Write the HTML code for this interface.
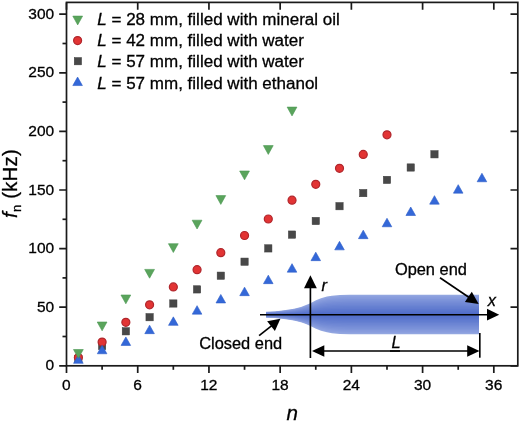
<!DOCTYPE html>
<html><head><meta charset="utf-8"><title>fn vs n</title>
<style>
html,body{margin:0;padding:0;background:#fff;}
body{width:520px;height:422px;overflow:hidden;}
svg{display:block;font-family:"Liberation Sans",Arial,sans-serif;fill:#000;}
text{stroke:#000;stroke-width:0.3px;}
.tk{font-size:15.5px;}
.lg{font-size:17.03px;}
.an{font-size:16.4px;}
.ti{font-size:20.6px;}
i,.it{font-style:italic;}
</style></head><body>
<svg width="520" height="422" viewBox="0 0 520 422">
<rect width="520" height="422" fill="#fff"/>
<defs>
<linearGradient id="tg" x1="0" y1="0" x2="0" y2="1">
<stop offset="0" stop-color="#93a7e0"/><stop offset="0.5" stop-color="#4866c4"/><stop offset="1" stop-color="#93a7e0"/>
</linearGradient></defs>
<rect x="66.5" y="2.4" width="451.29999999999995" height="363.40000000000003" fill="none" stroke="#1a1a1a" stroke-width="1.7"/>
<path d="M59.20 365.80H66.5 M510.50 365.80H517.8" stroke="#1a1a1a" stroke-width="1.7" fill="none"/>
<path d="M62.50 336.50H66.5" stroke="#1a1a1a" stroke-width="1.7" fill="none"/>
<path d="M59.20 307.20H66.5 M510.50 307.20H517.8" stroke="#1a1a1a" stroke-width="1.7" fill="none"/>
<path d="M62.50 277.90H66.5" stroke="#1a1a1a" stroke-width="1.7" fill="none"/>
<path d="M59.20 248.60H66.5 M510.50 248.60H517.8" stroke="#1a1a1a" stroke-width="1.7" fill="none"/>
<path d="M62.50 219.30H66.5" stroke="#1a1a1a" stroke-width="1.7" fill="none"/>
<path d="M59.20 190.00H66.5 M510.50 190.00H517.8" stroke="#1a1a1a" stroke-width="1.7" fill="none"/>
<path d="M62.50 160.70H66.5" stroke="#1a1a1a" stroke-width="1.7" fill="none"/>
<path d="M59.20 131.40H66.5 M510.50 131.40H517.8" stroke="#1a1a1a" stroke-width="1.7" fill="none"/>
<path d="M62.50 102.10H66.5" stroke="#1a1a1a" stroke-width="1.7" fill="none"/>
<path d="M59.20 72.80H66.5 M510.50 72.80H517.8" stroke="#1a1a1a" stroke-width="1.7" fill="none"/>
<path d="M62.50 43.50H66.5" stroke="#1a1a1a" stroke-width="1.7" fill="none"/>
<path d="M59.20 14.20H66.5 M510.50 14.20H517.8" stroke="#1a1a1a" stroke-width="1.7" fill="none"/>
<path d="M66.50 365.8V373.10 M66.50 2.4V9.70" stroke="#1a1a1a" stroke-width="1.7" fill="none"/>
<path d="M102.11 365.8V369.80" stroke="#1a1a1a" stroke-width="1.7" fill="none"/>
<path d="M137.72 365.8V373.10 M137.72 2.4V9.70" stroke="#1a1a1a" stroke-width="1.7" fill="none"/>
<path d="M173.33 365.8V369.80" stroke="#1a1a1a" stroke-width="1.7" fill="none"/>
<path d="M208.94 365.8V373.10 M208.94 2.4V9.70" stroke="#1a1a1a" stroke-width="1.7" fill="none"/>
<path d="M244.55 365.8V369.80" stroke="#1a1a1a" stroke-width="1.7" fill="none"/>
<path d="M280.16 365.8V373.10 M280.16 2.4V9.70" stroke="#1a1a1a" stroke-width="1.7" fill="none"/>
<path d="M315.77 365.8V369.80" stroke="#1a1a1a" stroke-width="1.7" fill="none"/>
<path d="M351.38 365.8V373.10 M351.38 2.4V9.70" stroke="#1a1a1a" stroke-width="1.7" fill="none"/>
<path d="M386.99 365.8V369.80" stroke="#1a1a1a" stroke-width="1.7" fill="none"/>
<path d="M422.60 365.8V373.10 M422.60 2.4V9.70" stroke="#1a1a1a" stroke-width="1.7" fill="none"/>
<path d="M458.21 365.8V369.80" stroke="#1a1a1a" stroke-width="1.7" fill="none"/>
<path d="M493.82 365.8V373.10 M493.82 2.4V9.70" stroke="#1a1a1a" stroke-width="1.7" fill="none"/>
<text class="tk" x="54.2" y="370.40" text-anchor="end">0</text>
<text class="tk" x="54.2" y="311.80" text-anchor="end">50</text>
<text class="tk" x="54.2" y="253.20" text-anchor="end">100</text>
<text class="tk" x="54.2" y="194.60" text-anchor="end">150</text>
<text class="tk" x="54.2" y="136.00" text-anchor="end">200</text>
<text class="tk" x="54.2" y="77.40" text-anchor="end">250</text>
<text class="tk" x="54.2" y="18.80" text-anchor="end">300</text>
<text class="tk" x="66.40" y="389.9" text-anchor="middle">0</text>
<text class="tk" x="137.62" y="389.9" text-anchor="middle">6</text>
<text class="tk" x="208.84" y="389.9" text-anchor="middle">12</text>
<text class="tk" x="280.06" y="389.9" text-anchor="middle">18</text>
<text class="tk" x="351.28" y="389.9" text-anchor="middle">24</text>
<text class="tk" x="422.50" y="389.9" text-anchor="middle">30</text>
<text class="tk" x="493.72" y="389.9" text-anchor="middle">36</text>
<text class="ti" transform="translate(16.6,217.9) rotate(-90)" letter-spacing="0.12"><tspan class="it">f</tspan><tspan font-size="13px" dy="4.8">n</tspan><tspan dy="-4.8"> (kHz)</tspan></text>
<text class="ti it" x="292.3" y="420" text-anchor="middle">n</text>
<rect x="74.72" y="355.35" width="7.3" height="7.3" fill="#484848" stroke="#3c3c3c" stroke-width="0.5"/>
<rect x="98.46" y="342.35" width="7.3" height="7.3" fill="#484848" stroke="#3c3c3c" stroke-width="0.5"/>
<rect x="122.20" y="327.65" width="7.3" height="7.3" fill="#484848" stroke="#3c3c3c" stroke-width="0.5"/>
<rect x="145.94" y="313.55" width="7.3" height="7.3" fill="#484848" stroke="#3c3c3c" stroke-width="0.5"/>
<rect x="169.68" y="299.85" width="7.3" height="7.3" fill="#484848" stroke="#3c3c3c" stroke-width="0.5"/>
<rect x="193.42" y="285.75" width="7.3" height="7.3" fill="#484848" stroke="#3c3c3c" stroke-width="0.5"/>
<rect x="217.16" y="272.05" width="7.3" height="7.3" fill="#484848" stroke="#3c3c3c" stroke-width="0.5"/>
<rect x="240.90" y="258.05" width="7.3" height="7.3" fill="#484848" stroke="#3c3c3c" stroke-width="0.5"/>
<rect x="264.64" y="244.75" width="7.3" height="7.3" fill="#484848" stroke="#3c3c3c" stroke-width="0.5"/>
<rect x="288.38" y="230.95" width="7.3" height="7.3" fill="#484848" stroke="#3c3c3c" stroke-width="0.5"/>
<rect x="312.12" y="217.35" width="7.3" height="7.3" fill="#484848" stroke="#3c3c3c" stroke-width="0.5"/>
<rect x="335.86" y="202.55" width="7.3" height="7.3" fill="#484848" stroke="#3c3c3c" stroke-width="0.5"/>
<rect x="359.60" y="189.45" width="7.3" height="7.3" fill="#484848" stroke="#3c3c3c" stroke-width="0.5"/>
<rect x="383.34" y="176.25" width="7.3" height="7.3" fill="#484848" stroke="#3c3c3c" stroke-width="0.5"/>
<rect x="407.08" y="163.85" width="7.3" height="7.3" fill="#484848" stroke="#3c3c3c" stroke-width="0.5"/>
<rect x="430.82" y="150.65" width="7.3" height="7.3" fill="#484848" stroke="#3c3c3c" stroke-width="0.5"/>
<circle cx="78.37" cy="357.50" r="4.0" fill="#e23434" stroke="#b0262c" stroke-width="1.2"/>
<circle cx="102.11" cy="342.10" r="4.0" fill="#e23434" stroke="#b0262c" stroke-width="1.2"/>
<circle cx="125.85" cy="322.30" r="4.0" fill="#e23434" stroke="#b0262c" stroke-width="1.2"/>
<circle cx="149.59" cy="304.80" r="4.0" fill="#e23434" stroke="#b0262c" stroke-width="1.2"/>
<circle cx="173.33" cy="286.90" r="4.0" fill="#e23434" stroke="#b0262c" stroke-width="1.2"/>
<circle cx="197.07" cy="269.70" r="4.0" fill="#e23434" stroke="#b0262c" stroke-width="1.2"/>
<circle cx="220.81" cy="252.70" r="4.0" fill="#e23434" stroke="#b0262c" stroke-width="1.2"/>
<circle cx="244.55" cy="235.50" r="4.0" fill="#e23434" stroke="#b0262c" stroke-width="1.2"/>
<circle cx="268.29" cy="219.00" r="4.0" fill="#e23434" stroke="#b0262c" stroke-width="1.2"/>
<circle cx="292.03" cy="200.20" r="4.0" fill="#e23434" stroke="#b0262c" stroke-width="1.2"/>
<circle cx="315.77" cy="184.30" r="4.0" fill="#e23434" stroke="#b0262c" stroke-width="1.2"/>
<circle cx="339.51" cy="168.30" r="4.0" fill="#e23434" stroke="#b0262c" stroke-width="1.2"/>
<circle cx="363.25" cy="154.40" r="4.0" fill="#e23434" stroke="#b0262c" stroke-width="1.2"/>
<circle cx="386.99" cy="134.80" r="4.0" fill="#e23434" stroke="#b0262c" stroke-width="1.2"/>
<polygon points="73.57,363.35 83.17,363.35 78.37,354.85" fill="#3468d8" stroke="#2c5cc8" stroke-width="0.6"/>
<polygon points="97.31,353.75 106.91,353.75 102.11,345.25" fill="#3468d8" stroke="#2c5cc8" stroke-width="0.6"/>
<polygon points="121.05,345.45 130.65,345.45 125.85,336.95" fill="#3468d8" stroke="#2c5cc8" stroke-width="0.6"/>
<polygon points="144.79,333.65 154.39,333.65 149.59,325.15" fill="#3468d8" stroke="#2c5cc8" stroke-width="0.6"/>
<polygon points="168.53,325.35 178.13,325.35 173.33,316.85" fill="#3468d8" stroke="#2c5cc8" stroke-width="0.6"/>
<polygon points="192.27,314.15 201.87,314.15 197.07,305.65" fill="#3468d8" stroke="#2c5cc8" stroke-width="0.6"/>
<polygon points="216.01,302.95 225.61,302.95 220.81,294.45" fill="#3468d8" stroke="#2c5cc8" stroke-width="0.6"/>
<polygon points="239.75,295.65 249.35,295.65 244.55,287.15" fill="#3468d8" stroke="#2c5cc8" stroke-width="0.6"/>
<polygon points="263.49,283.65 273.09,283.65 268.29,275.15" fill="#3468d8" stroke="#2c5cc8" stroke-width="0.6"/>
<polygon points="287.23,272.15 296.83,272.15 292.03,263.65" fill="#3468d8" stroke="#2c5cc8" stroke-width="0.6"/>
<polygon points="310.97,260.65 320.57,260.65 315.77,252.15" fill="#3468d8" stroke="#2c5cc8" stroke-width="0.6"/>
<polygon points="334.71,249.85 344.31,249.85 339.51,241.35" fill="#3468d8" stroke="#2c5cc8" stroke-width="0.6"/>
<polygon points="358.45,238.65 368.05,238.65 363.25,230.15" fill="#3468d8" stroke="#2c5cc8" stroke-width="0.6"/>
<polygon points="382.19,226.75 391.79,226.75 386.99,218.25" fill="#3468d8" stroke="#2c5cc8" stroke-width="0.6"/>
<polygon points="405.93,215.50 415.53,215.50 410.73,207.00" fill="#3468d8" stroke="#2c5cc8" stroke-width="0.6"/>
<polygon points="429.67,204.15 439.27,204.15 434.47,195.65" fill="#3468d8" stroke="#2c5cc8" stroke-width="0.6"/>
<polygon points="453.41,193.15 463.01,193.15 458.21,184.65" fill="#3468d8" stroke="#2c5cc8" stroke-width="0.6"/>
<polygon points="477.15,181.75 486.75,181.75 481.95,173.25" fill="#3468d8" stroke="#2c5cc8" stroke-width="0.6"/>
<polygon points="73.47,349.50 83.27,349.50 78.37,358.30" fill="#5aa45c" stroke="#4a9752" stroke-width="0.6"/>
<polygon points="97.21,322.00 107.01,322.00 102.11,330.80" fill="#5aa45c" stroke="#4a9752" stroke-width="0.6"/>
<polygon points="120.95,295.00 130.75,295.00 125.85,303.80" fill="#5aa45c" stroke="#4a9752" stroke-width="0.6"/>
<polygon points="144.69,269.40 154.49,269.40 149.59,278.20" fill="#5aa45c" stroke="#4a9752" stroke-width="0.6"/>
<polygon points="168.43,243.70 178.23,243.70 173.33,252.50" fill="#5aa45c" stroke="#4a9752" stroke-width="0.6"/>
<polygon points="192.17,220.20 201.97,220.20 197.07,229.00" fill="#5aa45c" stroke="#4a9752" stroke-width="0.6"/>
<polygon points="215.91,195.60 225.71,195.60 220.81,204.40" fill="#5aa45c" stroke="#4a9752" stroke-width="0.6"/>
<polygon points="239.65,171.00 249.45,171.00 244.55,179.80" fill="#5aa45c" stroke="#4a9752" stroke-width="0.6"/>
<polygon points="263.39,145.60 273.19,145.60 268.29,154.40" fill="#5aa45c" stroke="#4a9752" stroke-width="0.6"/>
<polygon points="287.13,107.10 296.93,107.10 292.03,115.90" fill="#5aa45c" stroke="#4a9752" stroke-width="0.6"/>
<polygon points="72.80,16.10 82.60,16.10 77.70,24.90" fill="#5aa45c" stroke="#4a9752" stroke-width="0.6"/>
<circle cx="77.60" cy="40.60" r="4.0" fill="#e23434" stroke="#b0262c" stroke-width="1.2"/>
<rect x="74.25" y="57.55" width="7.3" height="7.3" fill="#484848" stroke="#3c3c3c" stroke-width="0.5"/>
<polygon points="72.80,85.55 82.40,85.55 77.60,77.05" fill="#3468d8" stroke="#2c5cc8" stroke-width="0.6"/>
<text class="lg" x="97.3" y="24.90"><tspan class="it">L</tspan> = 28 mm, filled with mineral oil</text>
<text class="lg" x="97.3" y="46.10"><tspan class="it">L</tspan> = 42 mm, filled with water</text>
<text class="lg" x="97.3" y="67.30"><tspan class="it">L</tspan> = 57 mm, filled with water</text>
<text class="lg" x="97.3" y="88.50"><tspan class="it">L</tspan> = 57 mm, filled with ethanol</text>
<path d="M266 311.70 L275.0 311.40 L285.8 310.10 L294.0 308.70 L301.0 306.90 L306.0 305.10 L310.4 303.20 L316.0 300.30 L321.0 298.20 L327.0 296.60 L332.0 295.70 L340.0 295.00 L350.0 294.70 L479.0 294.70 L479.0 334.20 L350.0 334.20 L340.0 333.91 L332.0 333.22 L327.0 332.35 L321.0 330.79 L316.0 328.74 L310.4 325.91 L306.0 324.06 L301.0 322.31 L294.0 320.55 L285.8 319.19 L275.0 317.92 L266.0 317.62 Z" fill="rgb(146,166,224)"/>
<path d="M266 311.91 L275.0 311.64 L285.8 310.43 L294.0 309.13 L301.0 307.46 L306.0 305.79 L310.4 304.02 L316.0 301.33 L321.0 299.38 L327.0 297.89 L332.0 297.06 L340.0 296.41 L350.0 296.13 L479.0 296.13 L479.0 332.81 L350.0 332.81 L340.0 332.54 L332.0 331.90 L327.0 331.09 L321.0 329.64 L316.0 327.74 L310.4 325.11 L306.0 323.39 L301.0 321.76 L294.0 320.13 L285.8 318.86 L275.0 317.69 L266.0 317.42 Z" fill="rgb(139,159,222)"/>
<path d="M266 312.13 L275.0 311.87 L285.8 310.76 L294.0 309.56 L301.0 308.01 L306.0 306.47 L310.4 304.84 L316.0 302.36 L321.0 300.56 L327.0 299.19 L332.0 298.41 L340.0 297.81 L350.0 297.56 L479.0 297.56 L479.0 331.41 L350.0 331.41 L340.0 331.16 L332.0 330.58 L327.0 329.83 L321.0 328.49 L316.0 326.73 L310.4 324.31 L306.0 322.72 L301.0 321.22 L294.0 319.71 L285.8 318.54 L275.0 317.46 L266.0 317.21 Z" fill="rgb(133,154,220)"/>
<path d="M266 312.34 L275.0 312.11 L285.8 311.09 L294.0 309.99 L301.0 308.57 L306.0 307.16 L310.4 305.66 L316.0 303.39 L321.0 301.74 L327.0 300.48 L332.0 299.77 L340.0 299.22 L350.0 298.99 L479.0 298.99 L479.0 330.02 L350.0 330.02 L340.0 329.79 L332.0 329.26 L327.0 328.57 L321.0 327.34 L316.0 325.73 L310.4 323.51 L306.0 322.05 L301.0 320.68 L294.0 319.30 L285.8 318.22 L275.0 317.23 L266.0 317.00 Z" fill="rgb(127,149,218)"/>
<path d="M266 312.56 L275.0 312.34 L285.8 311.41 L294.0 310.41 L301.0 309.13 L306.0 307.84 L310.4 306.49 L316.0 304.41 L321.0 302.91 L327.0 301.77 L332.0 301.13 L340.0 300.63 L350.0 300.41 L479.0 300.41 L479.0 328.63 L350.0 328.63 L340.0 328.42 L332.0 327.93 L327.0 327.31 L321.0 326.19 L316.0 324.73 L310.4 322.71 L306.0 321.39 L301.0 320.13 L294.0 318.88 L285.8 317.90 L275.0 317.00 L266.0 316.79 Z" fill="rgb(122,145,216)"/>
<path d="M266 312.77 L275.0 312.58 L285.8 311.74 L294.0 310.84 L301.0 309.69 L306.0 308.53 L310.4 307.31 L316.0 305.44 L321.0 304.09 L327.0 303.06 L332.0 302.49 L340.0 302.04 L350.0 301.84 L479.0 301.84 L479.0 327.24 L350.0 327.24 L340.0 327.05 L332.0 326.61 L327.0 326.04 L321.0 325.04 L316.0 323.73 L310.4 321.91 L306.0 320.72 L301.0 319.59 L294.0 318.46 L285.8 317.58 L275.0 316.77 L266.0 316.58 Z" fill="rgb(117,140,214)"/>
<path d="M266 312.99 L275.0 312.81 L285.8 312.07 L294.0 311.27 L301.0 310.24 L306.0 309.21 L310.4 308.13 L316.0 306.47 L321.0 305.27 L327.0 304.36 L332.0 303.84 L340.0 303.44 L350.0 303.27 L479.0 303.27 L479.0 325.84 L350.0 325.84 L340.0 325.68 L332.0 325.29 L327.0 324.78 L321.0 323.89 L316.0 322.72 L310.4 321.11 L306.0 320.05 L301.0 319.05 L294.0 318.04 L285.8 317.26 L275.0 316.54 L266.0 316.37 Z" fill="rgb(112,136,213)"/>
<path d="M266 313.20 L275.0 313.05 L285.8 312.40 L294.0 311.70 L301.0 310.80 L306.0 309.90 L310.4 308.95 L316.0 307.50 L321.0 306.45 L327.0 305.65 L332.0 305.20 L340.0 304.85 L350.0 304.70 L479.0 304.70 L479.0 324.45 L350.0 324.45 L340.0 324.30 L332.0 323.96 L327.0 323.52 L321.0 322.74 L316.0 321.72 L310.4 320.31 L306.0 319.38 L301.0 318.50 L294.0 317.62 L285.8 316.94 L275.0 316.31 L266.0 316.16 Z" fill="rgb(107,132,211)"/>
<path d="M266 313.41 L275.0 313.29 L285.8 312.73 L294.0 312.13 L301.0 311.36 L306.0 310.59 L310.4 309.77 L316.0 308.53 L321.0 307.63 L327.0 306.94 L332.0 306.56 L340.0 306.26 L350.0 306.13 L479.0 306.13 L479.0 323.06 L350.0 323.06 L340.0 322.93 L332.0 322.64 L327.0 322.26 L321.0 321.59 L316.0 320.72 L310.4 319.51 L306.0 318.71 L301.0 317.96 L294.0 317.21 L285.8 316.62 L275.0 316.08 L266.0 315.95 Z" fill="rgb(102,128,209)"/>
<path d="M266 313.63 L275.0 313.52 L285.8 313.06 L294.0 312.56 L301.0 311.91 L306.0 311.27 L310.4 310.59 L316.0 309.56 L321.0 308.81 L327.0 308.24 L332.0 307.91 L340.0 307.66 L350.0 307.56 L479.0 307.56 L479.0 321.66 L350.0 321.66 L340.0 321.56 L332.0 321.32 L327.0 321.00 L321.0 320.45 L316.0 319.71 L310.4 318.70 L306.0 318.04 L301.0 317.42 L294.0 316.79 L285.8 316.30 L275.0 315.85 L266.0 315.74 Z" fill="rgb(98,124,208)"/>
<path d="M266 313.84 L275.0 313.76 L285.8 313.39 L294.0 312.99 L301.0 312.47 L306.0 311.96 L310.4 311.41 L316.0 310.59 L321.0 309.99 L327.0 309.53 L332.0 309.27 L340.0 309.07 L350.0 308.99 L479.0 308.99 L479.0 320.27 L350.0 320.27 L340.0 320.19 L332.0 319.99 L327.0 319.74 L321.0 319.30 L316.0 318.71 L310.4 317.90 L306.0 317.37 L301.0 316.87 L294.0 316.37 L285.8 315.98 L275.0 315.62 L266.0 315.54 Z" fill="rgb(93,120,206)"/>
<path d="M266 314.06 L275.0 313.99 L285.8 313.71 L294.0 313.41 L301.0 313.03 L306.0 312.64 L310.4 312.24 L316.0 311.61 L321.0 311.16 L327.0 310.82 L332.0 310.63 L340.0 310.48 L350.0 310.41 L479.0 310.41 L479.0 318.88 L350.0 318.88 L340.0 318.82 L332.0 318.67 L327.0 318.48 L321.0 318.15 L316.0 317.71 L310.4 317.10 L306.0 316.71 L301.0 316.33 L294.0 315.95 L285.8 315.66 L275.0 315.39 L266.0 315.33 Z" fill="rgb(89,116,205)"/>
<path d="M266 314.27 L275.0 314.23 L285.8 314.04 L294.0 313.84 L301.0 313.59 L306.0 313.33 L310.4 313.06 L316.0 312.64 L321.0 312.34 L327.0 312.11 L332.0 311.99 L340.0 311.89 L350.0 311.84 L479.0 311.84 L479.0 317.49 L350.0 317.49 L340.0 317.44 L332.0 317.35 L327.0 317.22 L321.0 317.00 L316.0 316.71 L310.4 316.30 L306.0 316.04 L301.0 315.79 L294.0 315.54 L285.8 315.34 L275.0 315.16 L266.0 315.12 Z" fill="rgb(84,112,203)"/>
<path d="M266 314.49 L275.0 314.46 L285.8 314.37 L294.0 314.27 L301.0 314.14 L306.0 314.01 L310.4 313.88 L316.0 313.67 L321.0 313.52 L327.0 313.41 L332.0 313.34 L340.0 313.29 L350.0 313.27 L479.0 313.27 L479.0 316.09 L350.0 316.09 L340.0 316.07 L332.0 316.02 L327.0 315.96 L321.0 315.85 L316.0 315.70 L310.4 315.50 L306.0 315.37 L301.0 315.24 L294.0 315.12 L285.8 315.02 L275.0 314.93 L266.0 314.91 Z" fill="rgb(80,108,202)"/>
<path d="M260.00 314.70L488.00 314.70" stroke="#000" stroke-width="1.65" fill="none"/>
<polygon points="499.20,314.70 487.00,320.60 487.00,308.80" fill="#000"/>
<path d="M310.40 358.00L310.40 287.30" stroke="#000" stroke-width="1.65" fill="none"/>
<polygon points="310.40,275.30 316.80,288.30 304.00,288.30" fill="#000"/>
<path d="M400.00 351.00L323.30 351.00" stroke="#000" stroke-width="1.65" fill="none"/>
<polygon points="312.00,351.00 324.30,345.30 324.30,356.70" fill="#000"/>
<path d="M390.00 351.00L468.20 351.00" stroke="#000" stroke-width="1.65" fill="none"/>
<polygon points="479.50,351.00 467.20,356.70 467.20,345.30" fill="#000"/>
<path d="M479.8 333V357.7" stroke="#000" stroke-width="1.65" fill="none"/>
<path d="M259.10 335.70L271.80 325.56" stroke="#000" stroke-width="1.65" fill="none"/>
<polygon points="280.40,318.70 274.89,331.03 267.15,321.34" fill="#000"/>
<path d="M440.00 277.80L469.17 297.47" stroke="#000" stroke-width="1.65" fill="none"/>
<polygon points="478.70,303.90 464.87,302.05 471.80,291.77" fill="#000"/>
<text class="an" x="199.2" y="348.8">Closed end</text>
<text class="an" x="394.9" y="274.6">Open end</text>
<text class="an it" x="321.5" y="290.8">r</text>
<text class="an it" x="487.8" y="306">x</text>
<text class="an it" x="391.5" y="348.1">L</text>
</svg>
</body></html>
